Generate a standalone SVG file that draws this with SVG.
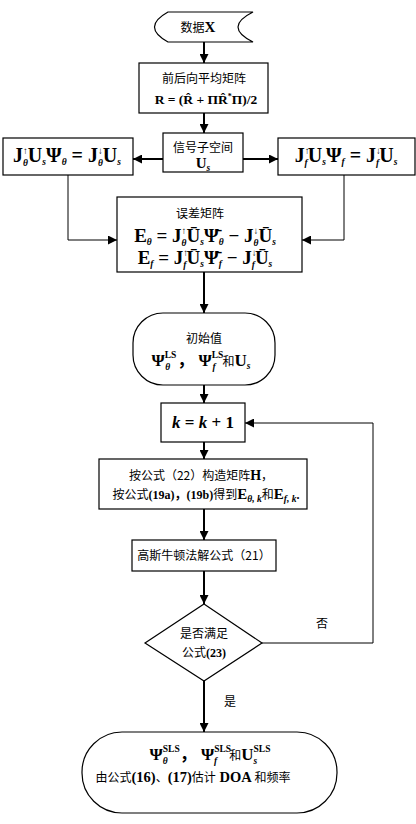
<svg xmlns="http://www.w3.org/2000/svg" width="416" height="824" viewBox="0 0 416 824">
<style>
.bx{fill:#fff;stroke:#000;stroke-width:1.2}
.cn{font-family:"Noto Sans CJK SC",sans-serif;font-size:12px;fill:#000}
.m{font-family:"Liberation Serif","Noto Sans CJK SC",serif;font-weight:bold;fill:#000}
.i{font-style:italic}
.s{font-size:9.5px}
.c{stroke:#000;fill:none}
.th{stroke-width:2}
.tn{stroke-width:1}
</style>
<defs>
<marker id="ah" markerUnits="userSpaceOnUse" markerWidth="9" markerHeight="9" refX="9" refY="4.5" orient="auto">
<path d="M0,0 L9,4.5 L0,9 Z" fill="#000"/>
</marker>
</defs>
<rect width="416" height="824" fill="#fff"/>
<g id="connectors">
<line class="c th" x1="204" y1="42" x2="204" y2="63" marker-end="url(#ah)"/>
<line class="c th" x1="204" y1="113" x2="204" y2="133" marker-end="url(#ah)"/>
<line class="c th" x1="163" y1="159" x2="133" y2="159" marker-end="url(#ah)"/>
<line class="c th" x1="243" y1="159" x2="278" y2="159" marker-end="url(#ah)"/>
<polyline class="c tn" points="68,175 68,240 117,240" marker-end="url(#ah)"/>
<polyline class="c tn" points="344,175 344,240 302,240" marker-end="url(#ah)"/>
<line class="c th" x1="204" y1="272" x2="204" y2="313" marker-end="url(#ah)"/>
<line class="c th" x1="204" y1="385" x2="204" y2="403" marker-end="url(#ah)"/>
<line class="c th" x1="204" y1="442" x2="204" y2="459" marker-end="url(#ah)"/>
<line class="c th" x1="204" y1="509" x2="204" y2="540" marker-end="url(#ah)"/>
<line class="c th" x1="204" y1="571" x2="204" y2="604" marker-end="url(#ah)"/>
<line class="c th" x1="204" y1="681" x2="204" y2="732" marker-end="url(#ah)"/>
<polyline class="c tn" points="262,643 373,643 373,423 245,423" marker-end="url(#ah)"/>
<text class="cn" x="316" y="628">否</text>
<text class="cn" x="224" y="706">是</text>
</g>
<g id="start">
<path class="bx" d="M168,12 L253,12 Q223,27 253,42 L168,42 Q141,27 168,12 Z"/>
<text class="m" x="198" y="32" text-anchor="middle" font-size="15"><tspan class="cn" font-size="14" font-weight="normal">数据</tspan>X</text>
</g>
<g id="fb-avg">
<rect class="bx" x="139" y="63" width="129" height="50"/>
<text class="cn" x="204" y="83" text-anchor="middle">前后向平均矩阵</text>
<text class="m" x="206" y="104" text-anchor="middle" font-size="13.5">R = (R̂ + ΠR̂<tspan font-size="8" dy="-5">*</tspan><tspan dy="5">Π)/2</tspan></text>
</g>
<g id="signal">
<rect class="bx" x="163" y="133" width="80" height="39"/>
<text class="cn" x="203" y="152" text-anchor="middle">信号子空间</text>
<text class="m" x="203" y="168" text-anchor="middle" font-size="15">U<tspan class="s i" dy="3">s</tspan></text>
</g>
<g id="left-eq">
<rect class="bx" x="3" y="138" width="130" height="37"/>
<text class="m" x="67" y="162" text-anchor="middle" font-size="20">J<tspan class="s" dy="-8">↑</tspan><tspan class="s i" dx="-4.8" dy="12">θ</tspan><tspan dy="-4">U</tspan><tspan class="s i" dy="3">s</tspan><tspan dy="-3">Ψ</tspan><tspan class="s i" dy="3">θ</tspan><tspan dy="-3"> = J</tspan><tspan class="s" dy="-8">↓</tspan><tspan class="s i" dx="-4.8" dy="12">θ</tspan><tspan dy="-4">U</tspan><tspan class="s i" dy="3">s</tspan></text>
</g>
<g id="right-eq">
<rect class="bx" x="278" y="138" width="137" height="37"/>
<text class="m" x="346" y="162" text-anchor="middle" font-size="20">J<tspan class="s" dy="-8">↑</tspan><tspan class="s i" dx="-4.8" dy="12">f</tspan><tspan dy="-4">U</tspan><tspan class="s i" dy="3">s</tspan><tspan dy="-3">Ψ</tspan><tspan class="s i" dy="3">f</tspan><tspan dy="-3"> = J</tspan><tspan class="s" dy="-8">↓</tspan><tspan class="s i" dx="-4.8" dy="12">f</tspan><tspan dy="-4">U</tspan><tspan class="s i" dy="3">s</tspan></text>
</g>
<g id="error">
<rect class="bx" x="117" y="197" width="185" height="75"/>
<text class="cn" x="200" y="218" text-anchor="middle">误差矩阵</text>
<text class="m" x="205" y="242" text-anchor="middle" font-size="19">E<tspan class="s i" dy="3">θ</tspan><tspan dy="-3"> = J</tspan><tspan class="s" dy="-8">↑</tspan><tspan class="s i" dx="-4.8" dy="12">θ</tspan><tspan dy="-4">Ū</tspan><tspan class="s i" dy="3">s</tspan><tspan dy="-3">Ψ̄</tspan><tspan class="s i" dy="3">θ</tspan><tspan dy="-3"> − J</tspan><tspan class="s" dy="-8">↓</tspan><tspan class="s i" dx="-4.8" dy="12">θ</tspan><tspan dy="-4">Ū</tspan><tspan class="s i" dy="3">s</tspan></text>
<text class="m" x="205" y="264" text-anchor="middle" font-size="19">E<tspan class="s i" dy="3">f</tspan><tspan dy="-3"> = J</tspan><tspan class="s" dy="-8">↑</tspan><tspan class="s i" dx="-4.8" dy="12">f</tspan><tspan dy="-4">Ū</tspan><tspan class="s i" dy="3">s</tspan><tspan dy="-3">Ψ̄</tspan><tspan class="s i" dy="3">f</tspan><tspan dy="-3"> − J</tspan><tspan class="s" dy="-8">↓</tspan><tspan class="s i" dx="-4.8" dy="12">f</tspan><tspan dy="-4">Ū</tspan><tspan class="s i" dy="3">s</tspan></text>
</g>
<g id="init">
<rect class="bx" x="133" y="313" width="142" height="72" rx="30" ry="30"/>
<text class="cn" x="204" y="343" text-anchor="middle">初始值</text>
<text class="m" x="201" y="366" text-anchor="middle" font-size="17">Ψ<tspan class="s" dy="-8">LS</tspan><tspan class="s i" dx="-11" dy="12">θ</tspan><tspan dx="7" dy="-4">， Ψ</tspan><tspan class="s" dy="-8">LS</tspan><tspan class="s i" dx="-11" dy="12">f</tspan><tspan class="cn" font-weight="normal" font-size="13" dx="7" dy="-4">和</tspan>U<tspan class="s i" dy="3">s</tspan></text>
</g>
<g id="iter">
<rect class="bx" x="161" y="403" width="84" height="39"/>
<text class="m" x="203" y="428" text-anchor="middle" font-size="17"><tspan class="i">k</tspan> = <tspan class="i">k</tspan> + 1</text>
</g>
<g id="build">
<rect class="bx" x="99" y="459" width="208" height="50"/>
<text class="m" x="201" y="480" text-anchor="middle" font-size="14"><tspan class="cn" font-weight="normal">按公式（22）构造矩阵</tspan>H<tspan class="cn" font-weight="normal">，</tspan></text>
<text class="m" x="206" y="499" text-anchor="middle" font-size="12"><tspan class="cn" font-weight="normal">按公式</tspan>(19a)，(19b)<tspan class="cn" font-weight="normal">得到</tspan><tspan font-size="15">E</tspan><tspan class="s i" dy="3">θ, k</tspan><tspan class="cn" font-weight="normal" dy="-3">和</tspan><tspan font-size="15">E</tspan><tspan class="s i" dy="3">f, k</tspan><tspan dy="-3">.</tspan></text>
</g>
<g id="gauss">
<rect class="bx" x="132" y="540" width="144" height="31"/>
<text class="cn" x="204" y="560" text-anchor="middle">高斯牛顿法解公式（21）</text>
</g>
<g id="check">
<path class="bx" d="M204,604 L262,643 L204,681 L145,643 Z"/>
<text class="cn" x="204" y="638" text-anchor="middle">是否满足</text>
<text class="m" x="204" y="657" text-anchor="middle" font-size="12"><tspan class="cn" font-weight="normal">公式</tspan>(23)</text>
</g>
<g id="result">
<rect class="bx" x="82" y="732" width="255" height="81" rx="40" ry="40"/>
<text class="m" x="210" y="760" text-anchor="middle" font-size="17">Ψ<tspan class="s" dy="-8">SLS</tspan><tspan class="s i" dx="-17" dy="12">θ</tspan><tspan dx="12" dy="-4">， Ψ</tspan><tspan class="s" dy="-8">SLS</tspan><tspan class="s i" dx="-17" dy="12">f</tspan><tspan class="cn" font-weight="normal" font-size="13" dx="12" dy="-4">和</tspan>U<tspan class="s" dy="-8">SLS</tspan><tspan class="s i" dx="-17" dy="12">s</tspan></text>
<text class="m" x="193" y="782" text-anchor="middle" font-size="14.5"><tspan class="cn" font-weight="normal" font-size="14.5">由公式</tspan>(16)<tspan class="cn" font-weight="normal" font-size="14.5">、</tspan>(17)<tspan class="cn" font-weight="normal" font-size="14.5">估计</tspan> DOA <tspan class="cn" font-weight="normal" font-size="14.5">和频率</tspan></text>
</g>
</svg>
